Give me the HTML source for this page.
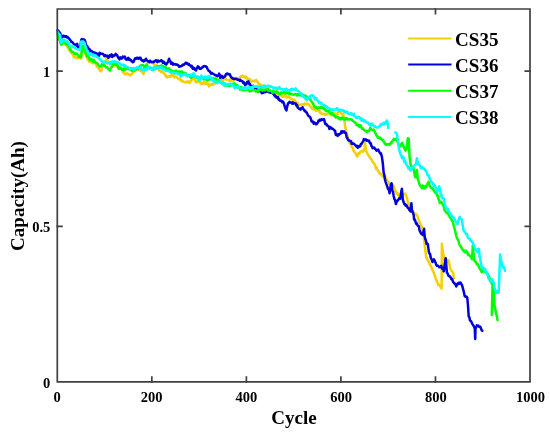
<!DOCTYPE html>
<html><head><meta charset="utf-8"><style>
html,body{margin:0;padding:0;background:#fff;}
body{width:550px;height:439px;overflow:hidden;position:relative;}
svg{position:absolute;left:0;top:0;}
text{font-family:"Liberation Serif","Times New Roman",serif;font-weight:bold;fill:#000;}
</style></head><body>
<svg width="550" height="439" viewBox="0 0 550 439">
<rect x="0" y="0" width="550" height="439" fill="#fff"/>

<g fill="none" stroke-width="2.5" stroke-linejoin="round" stroke-linecap="round">
<polyline stroke="#f5cf00" points="57.7,34.0 58.4,37.0 59.2,39.3 59.9,40.3 60.7,41.5 61.4,44.0 62.1,42.8 62.8,43.3 63.4,42.5 64.1,43.0 64.8,42.4 65.4,44.2 66.1,45.0 66.8,45.5 67.5,47.3 68.2,47.6 68.9,49.5 69.6,51.0 70.3,51.7 70.9,51.4 71.6,53.4 72.3,54.0 73.0,54.9 73.8,57.1 74.5,56.4 75.3,56.5 76.0,58.0 76.8,57.7 77.4,58.0 78.1,58.3 78.7,57.5 79.5,57.7 80.2,58.3 81.0,58.5 81.7,54.0 82.3,48.0 82.9,49.5 83.5,49.9 84.1,50.5 84.8,51.6 85.5,54.4 86.2,56.2 86.9,58.0 87.7,59.5 88.5,60.1 89.2,61.6 90.0,61.7 90.8,62.1 91.6,62.4 92.4,62.5 93.2,63.3 94.0,62.3 94.8,63.3 95.5,63.5 96.2,64.2 96.8,66.7 97.5,66.0 98.2,67.4 98.9,69.0 99.6,69.7 100.4,71.1 101.2,71.3 101.8,69.4 102.4,66.6 103.0,66.0 103.8,64.8 104.5,62.5 105.2,61.5 106.0,59.4 106.8,58.8 107.5,60.0 108.2,60.7 109.0,62.5 109.8,64.1 110.7,64.1 111.5,62.5 112.1,64.4 112.8,63.0 113.4,63.2 114.0,65.0 114.8,65.1 115.5,66.2 116.2,66.3 117.0,66.5 117.7,67.1 118.3,66.5 119.0,67.8 119.6,68.7 120.3,68.1 120.9,68.9 121.6,68.9 122.2,70.2 122.9,72.4 123.5,72.9 124.2,72.5 125.0,74.5 125.6,74.0 126.2,74.1 126.9,73.3 127.6,73.8 128.3,73.9 128.9,74.1 129.6,75.2 130.3,74.6 131.0,75.2 131.7,74.1 132.4,73.5 133.2,72.3 133.9,72.1 134.7,69.0 135.4,69.9 136.2,69.6 136.9,69.8 137.7,69.0 138.4,70.3 139.2,69.9 139.9,70.5 140.6,69.3 141.3,71.4 142.1,71.8 142.8,72.8 143.5,74.1 144.2,71.6 144.8,70.4 145.5,67.5 146.2,65.0 146.9,64.1 147.6,63.5 148.3,61.0 149.0,61.4 149.7,62.4 150.4,61.4 151.2,62.7 151.9,62.0 152.6,63.2 153.3,62.7 154.1,63.4 154.8,65.6 155.6,65.4 156.3,65.0 157.0,66.1 157.7,67.5 158.3,68.2 159.0,70.5 159.7,70.7 160.3,70.9 161.0,72.3 161.7,72.3 162.4,71.8 163.1,72.8 163.8,72.9 164.5,74.1 165.0,74.6 165.6,74.8 166.2,76.8 166.8,77.3 167.7,76.8 168.5,76.0 169.2,76.4 169.9,76.8 170.6,76.8 171.3,74.8 172.0,75.5 172.7,75.9 173.3,74.5 173.9,75.6 174.6,77.5 175.2,76.4 175.9,76.4 176.6,76.8 177.3,77.8 178.0,78.5 178.7,79.1 179.4,79.4 180.1,79.0 180.7,80.5 181.4,80.1 182.1,81.4 182.8,81.0 183.4,81.7 184.1,81.9 184.8,82.3 185.5,82.5 186.2,82.0 186.9,81.4 187.6,82.4 188.2,82.0 188.9,81.6 189.6,82.8 190.3,81.1 190.9,81.2 191.6,80.2 192.3,78.2 192.9,78.8 193.5,78.4 194.1,79.1 194.7,79.9 195.4,81.6 196.0,81.0 196.7,82.5 197.3,81.2 198.0,81.6 198.7,81.9 199.4,81.2 200.1,81.7 200.7,83.2 201.4,83.7 202.1,83.3 202.8,83.5 203.5,83.4 204.2,81.9 204.9,83.2 205.6,84.0 206.2,83.1 206.9,83.7 207.6,83.0 208.2,84.3 208.9,86.4 209.6,84.6 210.4,85.3 211.2,83.9 212.0,84.6 212.6,84.3 213.2,85.1 213.8,83.7 214.4,82.6 215.1,83.1 215.7,81.7 216.4,82.4 217.0,81.0 217.7,81.5 218.4,80.9 219.1,81.9 219.7,80.1 220.4,79.3 221.1,79.6 221.8,80.7 222.4,78.8 223.1,80.5 223.8,78.7 224.5,79.2 225.2,78.4 225.9,79.2 226.6,79.6 227.3,79.9 227.9,80.2 228.6,80.2 229.3,80.5 230.0,81.3 230.7,78.9 231.3,79.8 232.0,80.5 232.7,79.8 233.4,81.1 234.1,78.2 234.8,79.1 235.5,78.5 236.2,77.9 236.8,78.1 237.5,78.7 238.2,78.7 238.8,78.4 239.5,78.8 240.2,77.3 240.8,76.5 241.5,76.3 242.1,75.5 242.7,76.7 243.3,77.0 243.9,76.4 244.6,76.5 245.2,77.7 245.9,76.5 246.6,77.3 247.2,79.0 247.8,78.6 248.4,78.7 249.0,79.0 249.7,79.5 250.3,79.6 250.9,80.7 251.5,81.9 252.1,80.9 252.8,81.1 253.4,80.7 254.1,81.3 254.8,80.9 255.5,80.4 256.1,79.8 256.8,81.6 257.5,81.4 258.2,82.8 258.9,84.6 259.4,85.2 260.0,84.1 260.9,86.4 261.7,86.4 262.4,85.4 263.2,88.1 264.0,89.0 264.6,89.4 265.2,91.0 265.9,90.8 266.5,90.5 267.1,91.2 267.8,91.7 268.5,91.3 269.1,91.8 269.8,92.1 270.5,91.3 271.1,92.7 271.8,92.8 272.5,92.3 273.2,92.6 273.9,93.5 274.6,93.2 275.3,94.2 276.0,93.0 276.6,95.3 277.3,94.1 278.0,94.1 278.6,94.9 279.3,95.3 280.0,94.6 280.7,95.2 281.4,95.2 282.1,96.7 282.8,95.5 283.5,96.7 284.1,96.5 284.8,94.9 285.5,96.4 286.2,95.8 286.9,97.6 287.5,97.4 288.2,97.3 288.9,97.0 289.6,97.4 290.3,98.0 291.0,98.7 291.7,99.3 292.4,99.5 293.0,100.1 293.7,99.5 294.4,99.7 295.0,100.7 295.7,102.0 296.3,101.9 297.0,102.8 297.7,103.2 298.4,105.4 299.1,104.8 299.8,105.1 300.5,104.8 301.1,104.6 301.8,104.8 302.5,104.2 303.2,105.3 303.9,105.1 304.6,103.5 305.3,104.3 306.0,103.8 306.6,104.3 307.3,103.5 308.0,104.0 308.7,104.7 309.4,104.8 310.0,106.2 310.7,106.9 311.4,107.3 312.1,108.6 312.8,107.6 313.5,109.6 314.1,109.8 314.8,108.9 315.5,108.1 316.2,110.7 316.9,110.7 317.6,110.3 318.3,110.5 319.0,110.9 319.6,112.2 320.3,111.7 321.0,113.4 321.6,113.9 322.3,113.7 323.0,114.0 323.7,113.8 324.4,113.7 325.1,114.7 325.9,114.5 326.6,114.8 327.4,113.9 328.2,113.7 329.0,114.0 329.8,113.7 330.5,114.0 331.2,115.4 332.0,113.5 332.8,112.8 333.5,113.7 334.2,113.5 335.0,113.5 335.8,113.6 336.5,114.4 337.3,113.2 337.9,113.9 338.5,112.4 339.1,111.8 339.7,111.9 340.3,111.6 340.9,113.2 341.5,113.2 342.2,114.7 342.8,114.1 343.5,115.5 344.1,116.9 344.6,122.3 345.0,125.0 345.9,130.5 346.6,133.3 347.3,135.0 348.0,137.9 348.7,139.6 349.3,141.5 349.9,143.5 350.5,144.1 351.1,145.4 351.7,146.0 352.3,147.8 352.9,148.0 353.5,150.7 354.1,151.4 354.7,152.2 355.4,153.0 356.0,154.2 356.6,155.9 357.3,156.4 358.0,154.3 358.7,153.2 359.3,153.8 359.9,152.7 360.5,151.4 361.1,151.2 361.7,150.9 362.3,151.4 362.9,151.8 363.6,150.1 364.2,150.5 365.1,143.2 366.0,151.4 366.6,151.7 367.2,153.1 367.8,154.2 368.4,155.2 369.0,156.0 369.6,156.9 370.2,158.1 370.8,158.5 371.4,159.6 372.1,160.4 372.8,162.4 373.5,163.0 374.2,163.3 374.9,164.9 375.5,166.9 376.1,169.0 376.7,167.5 377.3,169.6 377.9,170.3 378.5,171.9 379.1,172.3 379.7,173.7 380.3,173.7 380.9,174.1 381.5,174.5 382.2,175.8 382.8,176.0 383.4,176.5 384.0,177.5 384.6,177.8 385.2,176.3 385.8,178.9 386.4,179.6 387.0,179.6 387.6,181.4 388.2,181.4 388.9,183.4 389.5,184.0 390.2,184.8 390.8,184.2 391.5,184.5 392.2,185.3 393.0,185.2 393.7,185.9 394.3,187.9 394.9,189.5 395.5,191.4 396.1,191.3 396.7,193.9 397.3,193.2 397.9,194.9 398.5,193.7 399.1,196.0 399.7,197.3 400.3,196.8 400.9,198.7 401.7,197.0 402.5,196.0 403.1,194.5 403.7,194.1 404.3,193.6 404.9,194.2 405.5,194.1 406.2,195.7 406.9,197.8 407.8,202.3 408.5,203.0 409.1,206.0 409.7,207.0 410.4,208.6 411.0,209.6 411.6,211.9 412.2,211.4 412.8,212.3 413.5,211.9 414.1,212.8 414.8,214.1 415.5,214.2 416.2,214.0 416.9,215.0 417.6,216.3 418.3,219.0 419.0,220.9 419.8,222.3 420.5,224.1 421.2,225.5 421.9,227.5 422.7,229.7 423.4,232.8 424.2,239.8 425.0,247.5 425.6,252.3 426.3,257.5 426.9,258.2 427.6,259.7 428.2,260.8 428.8,261.3 429.4,263.4 430.1,264.9 430.7,265.5 431.3,267.6 431.9,267.9 432.6,270.5 433.2,271.4 433.8,272.6 434.4,274.8 435.1,275.9 435.7,278.8 436.3,280.0 436.9,281.4 437.6,282.8 438.2,285.1 438.8,285.0 439.4,284.8 440.1,286.3 440.7,287.0 441.6,288.5 441.9,243.8 442.5,249.6 443.2,253.8 443.8,256.5 444.4,260.0 445.0,260.4 445.7,260.0 446.3,261.3 446.9,261.2 447.6,261.9 448.2,260.0 448.8,261.9 449.5,264.8 450.1,267.6 450.7,269.8 451.4,270.5 452.0,271.3 452.6,272.1 453.2,272.6 454.0,278.0"/>
<polyline stroke="#0000dc" points="57.6,30.1 58.2,32.6 58.9,31.4 59.5,32.5 60.1,33.0 60.7,34.9 61.3,36.4 61.8,37.5 62.4,37.2 63.0,35.7 63.5,36.1 64.3,35.9 65.2,36.7 65.8,36.3 66.4,36.3 67.0,37.5 67.8,37.1 68.7,38.4 69.2,38.6 69.8,39.8 70.7,40.6 71.5,42.1 72.3,41.9 73.2,43.2 73.9,44.1 74.6,44.6 75.2,44.4 75.8,44.9 76.6,45.8 77.2,43.9 77.8,46.9 78.5,47.6 79.2,47.5 79.8,47.1 80.3,47.2 81.2,40.1 81.8,39.0 82.3,39.2 83.2,39.4 84.0,39.5 84.9,40.4 85.5,42.7 86.0,44.6 86.7,45.8 87.3,46.2 88.0,48.0 88.7,49.1 89.3,48.7 90.0,50.6 90.8,52.0 91.6,50.9 92.4,52.2 93.2,52.0 94.0,52.4 94.8,52.6 95.6,53.2 96.4,53.2 97.2,53.8 98.0,55.3 98.8,56.2 99.6,52.7 100.4,53.9 101.2,53.8 102.0,53.7 102.8,53.8 103.6,54.6 104.4,56.1 105.2,55.0 106.0,56.2 106.8,56.4 107.5,55.6 108.3,57.8 109.1,57.0 109.9,55.4 110.7,56.2 111.5,54.4 112.3,57.0 113.1,55.4 113.7,56.0 114.4,55.3 115.0,55.2 115.7,53.9 116.3,55.0 117.1,54.9 117.9,57.0 118.7,58.2 119.5,59.4 120.3,57.4 121.1,58.6 121.9,58.6 122.7,56.6 123.5,57.2 124.3,57.0 124.9,56.6 125.6,59.2 126.2,58.7 126.9,59.8 127.6,58.8 128.2,57.8 128.9,59.6 129.6,59.0 130.3,60.2 131.0,60.0 131.7,61.4 132.3,61.5 132.9,62.3 133.5,61.8 134.1,60.6 134.7,59.0 135.3,58.2 136.0,58.6 136.6,57.8 137.3,58.5 137.9,57.7 138.6,59.0 139.2,57.8 139.9,57.8 140.5,57.8 141.1,59.4 141.7,60.5 142.3,60.2 142.9,60.2 143.5,61.4 144.1,60.6 144.7,60.9 145.3,60.0 146.0,58.7 146.7,60.2 147.3,60.7 148.0,61.4 148.7,61.2 149.4,62.1 150.1,60.7 150.8,61.8 151.5,62.1 152.2,61.8 152.8,62.1 153.5,62.3 154.1,61.6 154.7,61.0 155.3,60.9 156.0,60.2 156.7,60.8 157.4,62.1 158.1,60.5 158.8,61.5 159.5,61.3 160.3,61.0 161.0,60.2 161.7,60.5 162.3,61.2 162.9,62.9 163.5,61.8 164.2,62.0 165.0,63.7 165.6,64.1 166.2,64.5 166.8,63.7 167.6,62.3 168.3,61.0 169.1,58.7 169.8,61.2 170.5,61.4 171.1,63.7 171.7,63.6 172.3,62.8 173.0,64.6 173.7,63.9 174.3,64.4 175.0,64.1 175.7,64.5 176.4,64.8 177.1,64.4 177.8,65.0 178.5,65.7 179.2,66.8 179.8,66.1 180.5,66.4 181.2,66.1 181.8,66.0 182.5,65.1 183.2,64.6 183.8,65.0 184.4,64.3 185.0,63.7 185.7,62.8 186.5,62.7 187.2,64.0 188.0,64.2 188.7,63.7 189.3,65.2 189.9,65.2 190.5,65.5 191.1,66.5 191.7,65.8 192.3,67.8 192.9,68.7 193.5,67.5 194.1,68.2 194.7,69.6 195.4,69.0 196.0,70.5 196.6,68.5 197.2,67.7 197.8,66.4 198.4,66.8 199.0,67.3 199.6,68.7 200.3,68.9 200.9,68.6 201.6,68.0 202.3,67.3 203.0,66.9 203.7,66.2 204.4,66.1 205.1,66.4 205.7,66.2 206.3,66.9 206.9,67.3 207.5,69.0 208.1,69.7 208.7,70.9 209.3,70.9 209.9,71.6 210.5,72.8 211.2,73.6 212.0,72.8 212.6,73.5 213.2,73.9 213.8,74.1 214.4,74.6 215.0,75.2 215.6,75.0 216.3,75.3 217.0,76.2 217.7,76.2 218.4,75.5 219.1,73.6 219.8,75.2 220.4,77.9 221.1,75.9 221.8,75.7 222.4,76.6 223.1,77.8 223.8,77.3 224.4,76.6 225.1,76.5 225.7,74.6 226.4,73.9 227.1,73.5 227.9,74.2 228.6,74.0 229.3,74.6 229.9,74.4 230.5,76.3 231.1,76.8 231.7,77.7 232.3,78.1 232.9,78.7 233.6,78.5 234.3,79.0 235.0,78.9 235.7,79.1 236.4,78.7 237.1,79.6 237.7,79.8 238.4,79.6 239.1,80.1 239.8,80.8 240.4,79.9 241.1,80.9 241.8,81.0 242.5,81.2 243.2,82.9 243.9,82.3 244.5,83.5 245.1,85.2 245.7,84.1 246.4,84.5 247.1,81.9 247.8,81.7 248.4,81.4 249.3,84.1 249.9,83.9 250.6,85.6 251.2,86.0 251.9,86.1 252.6,86.3 253.2,85.8 253.9,86.9 254.6,87.7 255.2,88.2 255.9,88.9 256.6,89.1 257.2,90.3 257.8,90.3 258.4,91.9 259.2,89.6 260.0,90.9 260.6,91.1 261.2,91.8 261.8,93.2 262.4,92.2 263.0,92.9 263.6,91.8 264.2,91.5 264.9,92.3 265.5,90.9 266.2,91.4 266.9,91.7 267.5,91.8 268.2,91.4 268.8,92.2 269.4,90.9 270.0,91.8 270.6,92.8 271.2,92.7 271.8,92.8 272.4,92.5 273.1,94.0 273.7,94.1 274.3,95.0 274.9,96.3 275.5,95.9 276.1,97.3 276.7,97.6 277.3,97.8 277.9,97.0 278.5,99.4 279.1,98.7 279.7,100.6 280.3,100.7 280.9,100.5 281.5,101.3 282.2,102.1 282.8,101.4 283.5,102.3 284.1,104.1 284.8,106.8 285.5,108.7 286.4,110.5 287.3,106.0 288.2,103.2 288.8,103.0 289.5,101.9 290.1,102.3 290.8,102.4 291.5,102.6 292.1,103.6 292.8,102.3 293.4,103.6 294.0,103.0 295.0,103.5 295.7,103.5 296.4,105.5 297.0,104.9 297.7,107.6 298.4,107.9 299.1,108.9 299.8,109.0 300.5,109.6 301.1,108.2 301.8,108.2 302.5,107.3 303.2,108.9 303.9,109.6 304.6,111.0 305.2,110.7 305.9,112.3 306.6,112.3 307.3,113.7 308.0,115.3 308.7,116.2 309.4,116.5 310.2,117.2 310.9,118.9 311.6,121.5 312.3,121.4 313.0,121.7 313.7,123.6 314.5,122.5 315.2,123.1 315.9,124.3 316.6,124.3 317.3,122.9 318.0,122.4 318.6,120.5 319.3,120.8 320.0,119.6 320.7,120.5 321.4,119.3 322.0,119.7 322.7,119.6 323.3,119.9 324.0,119.1 324.6,121.4 325.2,124.0 325.8,124.0 326.4,124.1 327.0,125.5 327.6,125.8 328.2,126.0 328.8,126.8 329.4,129.0 330.0,127.8 330.6,127.1 331.2,128.0 331.8,128.7 332.4,128.6 333.1,129.1 333.7,129.6 334.4,130.5 335.0,130.5 335.9,135.0 336.5,134.9 337.1,134.5 337.7,135.9 338.3,134.2 339.0,134.8 339.6,134.1 340.2,133.9 340.8,133.1 341.4,131.4 342.1,132.7 342.8,131.3 343.4,132.1 344.1,131.4 344.7,132.7 345.3,132.6 345.9,133.2 346.8,137.8 347.4,138.1 348.1,140.1 348.7,140.5 349.3,140.4 349.9,140.8 350.5,141.4 351.1,141.2 351.7,143.8 352.3,143.2 352.9,143.7 353.5,143.5 354.1,144.1 354.7,144.5 355.4,145.1 356.0,146.0 356.6,146.6 357.2,145.9 357.8,147.8 358.4,146.1 359.0,146.8 359.6,146.0 360.2,146.2 360.8,144.1 361.4,144.1 362.0,143.2 362.6,141.9 363.2,141.4 363.8,139.1 364.5,139.9 365.1,140.0 365.8,139.2 366.5,140.7 367.1,140.3 367.8,140.5 368.4,141.1 369.0,140.6 369.6,142.3 370.2,143.4 370.8,143.3 371.4,146.0 372.0,146.5 372.7,148.2 373.3,147.8 374.1,147.5 375.0,148.7 375.8,149.6 376.5,150.7 377.3,150.0 378.2,149.6 378.9,151.0 379.6,152.3 380.2,153.6 380.9,153.2 381.9,156.8 382.8,163.2 383.6,172.0 384.3,175.0 385.0,179.6 385.7,182.1 386.4,184.1 387.2,186.2 388.0,189.0 388.8,189.5 389.6,193.2 390.5,187.0 391.1,184.0 391.6,183.2 392.3,190.5 393.0,191.9 393.7,196.0 394.4,199.3 395.0,199.6 395.9,204.1 396.8,201.4 397.5,201.0 398.2,199.6 398.8,199.3 399.4,198.0 400.0,198.7 400.6,196.5 401.3,191.4 401.9,188.7 402.8,199.6 403.7,202.3 404.4,204.2 405.0,204.1 405.7,205.6 406.4,205.1 407.1,206.7 407.8,207.8 408.5,208.3 409.1,209.6 409.8,210.4 410.5,211.4 411.4,203.2 411.9,209.6 412.8,212.3 413.7,215.0 414.1,219.6 414.8,219.5 415.5,221.7 416.1,223.6 416.8,223.2 417.4,225.1 418.1,226.0 418.7,226.0 419.6,230.5 420.2,231.5 420.9,233.2 421.5,234.0 422.2,233.7 422.8,235.0 423.5,231.4 424.1,228.7 424.6,236.0 425.2,238.7 425.9,240.5 426.5,243.7 427.2,243.4 427.8,244.2 428.8,251.3 429.4,253.5 430.1,254.0 430.7,257.5 431.3,258.9 431.9,259.8 432.5,262.0 433.1,260.1 433.8,259.3 434.4,260.0 435.0,261.5 435.7,263.0 436.3,265.0 436.9,265.8 437.6,265.6 438.2,266.0 438.8,266.3 439.4,267.2 440.1,266.8 440.7,266.6 441.3,265.7 441.9,268.4 442.6,268.9 443.2,269.2 443.8,271.3 444.4,266.2 445.1,261.2 445.7,258.2 446.3,265.4 446.9,272.6 447.5,273.2 448.1,274.8 448.8,276.1 449.4,276.3 450.0,276.5 450.7,277.6 451.4,279.1 452.0,278.8 452.6,280.3 453.2,282.1 453.8,282.6 454.4,283.6 455.1,283.8 455.7,285.1 456.3,286.4 456.9,283.9 457.6,284.5 458.2,283.2 458.8,282.7 459.5,283.7 460.1,282.6 460.7,282.7 461.4,284.2 462.0,285.1 462.8,288.0 463.5,290.5 464.1,293.1 464.6,295.9 465.3,296.7 466.0,296.4 466.6,296.6 467.3,298.0 468.0,305.5 468.7,316.4 469.4,317.2 470.0,320.5 470.7,320.8 471.4,321.8 472.1,323.6 472.8,324.6 473.5,325.7 474.1,326.8 474.8,328.7 475.2,339.0 475.5,328.7 476.2,327.1 476.9,325.3 477.6,326.0 478.3,325.6 478.9,326.7 479.6,326.7 480.3,326.8 481.0,328.4 481.6,330.2 482.3,330.8"/>
<polyline stroke="#00ff00" points="57.6,33.5 58.3,35.7 58.9,38.7 59.6,39.8 60.2,41.3 60.7,43.8 61.2,44.7 61.8,44.4 62.6,43.0 63.5,41.8 64.3,42.0 65.2,42.6 65.8,44.4 66.4,43.8 67.0,43.8 67.8,45.0 68.7,46.1 69.2,47.5 69.8,47.8 70.4,49.9 71.0,50.2 71.7,51.6 72.3,52.3 73.0,52.1 73.7,52.8 74.3,53.2 75.0,54.1 75.7,53.5 76.5,53.7 77.2,54.0 78.0,55.5 78.7,56.4 79.5,56.5 80.2,56.7 81.0,57.3 81.7,51.6 82.3,46.0 82.9,45.9 83.5,47.5 84.1,48.7 84.8,50.7 85.5,52.9 86.2,53.7 86.9,56.0 87.7,56.6 88.5,56.5 89.2,58.5 90.0,60.2 90.8,58.7 91.6,59.3 92.4,61.0 93.2,61.8 94.0,59.9 94.8,61.7 95.6,62.5 96.4,63.1 97.2,63.3 98.0,64.3 98.8,65.7 99.6,66.4 100.4,66.5 101.2,65.8 102.0,64.1 102.8,65.4 103.6,64.9 104.4,65.7 105.2,66.1 106.0,67.3 106.8,67.3 107.5,67.5 108.3,68.9 109.1,69.5 109.9,70.5 110.7,68.3 111.5,67.3 112.3,66.4 113.1,64.1 113.9,63.1 114.7,63.6 115.5,64.9 116.3,64.5 117.1,64.2 117.9,66.5 118.7,68.8 119.5,68.9 120.3,67.6 121.1,68.9 121.9,69.7 122.7,68.9 123.5,70.3 124.3,68.9 125.0,67.6 125.7,69.4 126.4,68.3 127.1,68.7 127.8,68.6 128.5,68.4 129.2,69.4 129.8,68.4 130.5,69.0 131.2,69.6 131.9,70.9 132.6,69.6 133.3,68.1 134.0,70.4 134.8,70.5 135.5,69.4 136.2,69.6 136.9,69.1 137.7,67.8 138.4,68.6 139.2,67.1 139.9,66.0 140.6,65.7 141.2,65.3 141.9,65.1 142.6,65.0 143.3,65.5 143.9,65.7 144.6,68.5 145.3,67.8 146.0,66.5 146.8,64.5 147.5,66.6 148.3,66.8 149.0,66.9 149.7,67.7 150.4,67.9 151.2,68.4 151.9,69.3 152.6,69.6 153.3,69.8 154.1,68.3 154.8,67.7 155.6,68.8 156.3,66.9 157.1,67.4 157.8,66.0 158.6,68.1 159.3,67.2 160.1,65.9 160.8,66.0 161.5,65.3 162.2,66.5 162.8,66.1 163.5,66.9 164.2,66.6 165.0,68.2 165.7,67.2 166.3,67.8 167.0,69.3 167.7,68.7 168.4,68.8 169.1,68.2 169.8,70.0 170.5,70.0 171.2,70.4 171.9,71.2 172.7,71.9 173.4,71.2 174.1,71.4 174.8,71.3 175.4,71.3 176.1,70.5 176.7,71.7 177.4,72.5 178.0,71.7 178.7,71.4 179.4,71.5 180.2,71.7 180.9,71.5 181.7,71.6 182.4,72.1 183.2,72.8 183.9,72.6 184.7,73.4 185.4,73.1 186.2,75.0 186.9,75.5 187.6,75.9 188.3,75.4 189.1,74.7 189.8,76.6 190.5,77.3 191.2,77.9 191.9,76.5 192.7,76.3 193.4,76.1 194.1,76.4 194.8,77.0 195.6,76.2 196.3,77.6 197.1,77.0 197.8,77.3 198.5,78.2 199.2,77.8 200.0,77.7 200.7,76.9 201.4,78.2 202.1,77.6 202.9,78.2 203.6,79.2 204.4,79.2 205.1,79.1 205.8,78.9 206.4,79.8 207.1,80.6 207.8,80.1 208.5,79.9 209.2,79.3 209.8,79.0 210.5,79.1 211.2,79.6 212.0,79.0 212.7,79.5 213.3,78.4 214.0,79.2 214.6,78.7 215.3,78.4 215.9,79.9 216.6,79.1 217.3,80.5 218.1,79.9 218.8,80.9 219.6,81.9 220.3,81.8 221.1,82.8 221.8,83.0 222.4,84.0 223.1,82.7 223.7,84.3 224.4,85.3 225.0,85.6 225.7,85.5 226.4,84.6 227.2,85.6 227.9,84.9 228.7,85.8 229.4,86.0 230.2,85.5 230.9,85.4 231.7,84.3 232.4,83.9 233.2,84.6 233.9,83.7 234.6,83.4 235.2,84.4 235.9,84.8 236.6,84.6 237.3,85.2 237.9,87.7 238.6,87.0 239.3,87.3 240.0,89.5 240.8,87.2 241.5,87.0 242.3,89.8 243.0,90.0 243.7,90.5 244.4,89.9 245.2,89.9 245.9,88.6 246.6,90.0 247.3,89.4 248.1,89.5 248.8,90.2 249.6,91.4 250.3,91.0 251.0,91.0 251.7,90.9 252.5,89.9 253.2,89.8 253.9,90.0 254.6,90.3 255.2,90.3 255.9,91.7 256.6,91.0 257.3,90.3 258.0,91.8 258.7,89.8 259.4,90.0 260.0,88.7 260.7,89.7 261.4,88.8 262.2,90.6 262.9,90.1 263.6,90.0 264.3,90.3 265.0,90.4 265.7,89.4 266.4,89.6 267.1,89.1 267.8,88.6 268.4,91.2 269.1,90.9 269.8,90.6 270.5,90.6 271.1,91.1 271.8,91.4 272.5,93.0 273.3,90.8 274.0,91.9 274.8,91.8 275.5,92.3 276.2,92.8 276.9,91.3 277.5,92.1 278.2,92.8 278.9,93.3 279.7,94.1 280.4,94.3 281.2,92.4 281.9,92.8 282.6,92.9 283.2,92.9 283.9,92.1 284.6,93.2 285.3,91.8 286.0,93.3 286.6,93.1 287.3,92.8 288.0,93.0 288.7,94.2 289.4,92.9 290.1,93.7 290.8,94.2 291.5,94.2 292.1,94.3 292.8,94.6 293.5,94.7 294.3,94.3 295.0,93.9 295.7,94.2 296.4,94.3 297.0,95.6 297.7,94.2 298.4,94.4 299.1,95.3 299.8,95.3 300.5,94.9 301.2,94.9 302.0,95.8 302.8,94.8 303.5,95.5 304.3,96.5 305.1,95.5 305.8,95.8 306.6,96.5 307.2,97.3 307.9,98.5 308.5,98.5 309.2,99.0 310.0,97.8 310.7,100.4 311.4,101.4 312.1,102.5 312.8,103.0 313.5,104.8 314.2,106.0 314.8,106.9 315.5,107.6 316.2,107.1 316.8,108.5 317.5,108.0 318.1,108.3 318.8,107.4 319.4,108.3 320.0,108.2 320.7,107.1 321.4,107.2 322.0,108.0 322.7,107.8 323.4,107.3 324.1,108.9 324.8,108.8 325.5,110.5 326.2,111.1 326.9,110.5 327.5,111.2 328.2,111.4 328.9,110.7 329.5,111.8 330.2,113.4 330.9,113.2 331.6,114.1 332.3,112.8 333.0,115.0 333.7,115.0 334.4,116.2 335.0,115.8 335.7,117.5 336.4,116.9 337.1,116.5 337.8,117.2 338.4,118.4 339.1,117.8 339.8,119.2 340.5,119.4 341.2,117.9 341.9,118.7 342.6,117.5 343.2,119.2 343.9,118.3 344.6,119.6 345.0,119.1 345.7,118.7 346.4,117.9 347.0,119.4 347.7,118.7 348.4,119.5 349.1,119.5 349.8,119.1 350.5,119.1 351.2,119.6 351.9,119.8 352.5,120.7 353.2,120.9 353.9,121.7 354.5,122.4 355.2,122.4 355.9,123.2 356.6,125.0 357.3,124.6 358.0,125.7 358.7,125.0 359.4,126.8 360.0,125.7 360.7,125.4 361.4,127.3 362.1,128.6 362.8,128.5 363.4,129.4 364.1,130.0 364.8,130.4 365.5,131.2 366.2,130.8 366.9,132.3 367.5,131.6 368.1,131.0 368.7,130.9 369.5,130.2 370.2,127.9 371.0,129.1 371.7,129.7 372.5,130.0 373.2,130.0 373.8,129.5 374.4,130.7 375.0,132.3 375.6,133.4 376.2,135.1 376.8,135.9 377.4,136.5 378.0,137.9 378.6,137.3 379.2,138.0 379.9,137.5 380.5,138.7 381.1,138.4 381.7,139.7 382.3,139.6 382.9,140.0 383.5,141.6 384.1,141.8 384.7,143.4 385.3,144.0 385.9,144.1 386.5,145.0 387.2,144.1 387.8,144.1 388.4,144.4 389.0,144.3 389.6,145.0 390.2,143.9 390.8,142.5 391.4,143.2 392.0,141.6 392.6,140.5 393.2,140.5 393.8,138.9 394.4,139.8 395.0,139.6 395.7,139.5 396.4,138.7 397.1,140.3 397.8,142.3 398.4,144.5 399.0,145.6 399.6,145.9 400.2,146.3 400.8,144.4 401.4,144.1 402.1,142.9 402.8,144.1 403.5,146.1 404.1,147.8 404.8,149.4 405.5,150.5 406.4,148.7 407.1,144.0 407.8,138.2 408.7,138.7 409.6,157.3 410.5,163.7 411.4,166.4 412.1,167.3 412.8,167.3 413.7,169.1 414.6,174.6 415.2,177.0 415.9,177.3 416.9,170.0 417.8,179.1 418.5,180.9 419.1,182.8 419.8,185.1 420.5,186.4 421.2,186.8 421.9,188.3 422.5,185.5 423.2,186.4 423.8,186.3 424.4,188.6 425.0,188.2 425.6,186.2 426.2,187.0 426.8,185.5 427.4,183.9 428.0,182.7 428.6,181.8 429.6,185.5 430.5,187.3 431.1,187.6 431.7,188.1 432.3,188.2 432.9,188.4 433.5,190.0 434.1,190.9 434.7,191.9 435.3,192.9 435.9,192.8 436.5,193.3 437.2,195.7 437.8,195.5 438.5,199.4 439.1,200.0 439.8,203.1 440.5,201.9 441.1,201.8 441.8,202.8 442.5,204.2 443.2,205.5 443.9,206.4 444.6,210.1 445.2,211.0 445.9,211.9 446.5,212.9 447.2,212.3 447.8,213.7 448.4,213.3 449.0,215.4 449.6,216.4 450.2,217.8 450.8,217.8 451.4,219.2 452.0,220.8 452.7,221.0 453.3,223.9 454.0,226.6 454.6,228.5 455.4,231.8 456.2,236.0 457.0,238.0 457.7,239.4 458.4,240.3 459.1,244.1 459.8,245.1 460.5,245.7 461.1,247.3 461.8,248.2 462.5,249.4 463.2,250.1 463.9,251.4 464.6,250.9 465.3,252.5 466.0,250.6 466.6,251.7 467.3,252.3 468.0,254.6 468.6,254.0 469.3,255.6 470.0,255.7 470.7,256.9 471.4,257.7 472.1,259.1 472.8,245.5 473.5,253.4 474.1,259.1 474.8,261.3 475.5,261.5 476.2,262.6 476.9,264.3 477.5,263.8 478.2,265.0 478.9,266.7 479.6,268.6 480.3,269.5 481.0,270.0 481.7,272.1 482.4,271.4 483.0,270.6 483.7,269.4 484.4,271.3 485.0,272.0 485.7,271.9 486.4,272.8 487.1,273.5 487.8,274.7 488.5,275.7 489.2,276.9 489.9,279.6 490.5,281.5 491.2,281.7 491.9,284.0 492.6,283.7 491.8,315.0 492.6,302.0 493.5,288.0 494.5,305.0 495.2,308.7 496.0,313.2 496.8,316.1 497.5,320.0"/>
<polyline stroke="#00ffff" points="57.6,31.8 58.4,33.0 59.2,34.1 60.1,35.2 60.7,40.9 61.3,42.6 61.8,42.1 62.4,39.8 63.0,40.0 63.5,39.5 64.3,39.7 65.2,40.4 65.8,40.8 66.4,41.5 67.0,40.9 67.7,42.1 68.4,42.4 69.2,44.9 70.1,46.8 70.9,46.1 71.8,45.9 72.6,46.6 73.2,47.0 73.8,46.9 74.4,47.8 75.1,47.5 75.9,48.3 76.6,48.9 77.4,49.2 78.1,49.6 78.9,49.5 79.6,49.9 80.3,49.5 81.2,41.5 82.1,43.3 82.9,41.5 83.5,42.8 84.0,42.1 84.7,43.3 85.5,46.5 86.2,48.3 86.9,51.0 87.7,51.4 88.5,53.7 89.2,53.7 90.0,54.6 90.8,53.4 91.6,55.1 92.4,55.4 93.2,55.4 94.0,55.0 94.8,56.2 95.6,55.6 96.4,56.1 97.2,57.0 98.0,57.4 98.8,58.0 99.6,58.7 100.4,60.0 101.2,60.7 102.0,61.5 102.8,63.0 103.6,61.5 104.4,62.0 105.2,61.5 105.9,62.0 106.7,62.5 107.5,63.4 108.3,62.5 109.1,63.0 109.9,63.8 110.7,61.9 111.5,62.5 112.3,61.4 113.1,61.9 113.9,62.0 114.7,61.3 115.5,61.4 116.3,62.0 117.2,62.4 118.0,62.3 118.7,63.3 119.3,63.4 120.0,63.5 120.7,64.1 121.4,65.3 122.1,65.0 122.8,64.7 123.5,65.0 124.2,66.3 124.9,65.3 125.7,66.2 126.4,67.0 127.1,66.9 127.8,67.4 128.4,67.4 129.1,68.4 129.8,68.7 130.5,68.4 131.2,68.4 131.9,68.1 132.6,69.1 133.3,69.7 133.9,68.4 134.6,69.2 135.3,68.2 136.0,68.3 136.7,67.4 137.3,67.7 138.0,66.9 138.6,67.5 139.3,67.7 139.9,67.8 140.5,67.4 141.1,68.9 141.7,69.6 142.4,70.0 143.1,69.6 143.7,69.8 144.4,68.7 145.1,69.9 145.8,69.1 146.6,70.0 147.3,67.5 148.0,68.2 148.7,68.1 149.4,66.7 150.1,69.1 150.8,69.1 151.5,69.1 152.2,70.2 153.0,68.8 153.7,67.3 154.4,68.7 155.1,69.2 155.8,67.6 156.5,67.2 157.2,68.2 157.9,67.7 158.6,68.4 159.2,67.6 159.9,67.8 160.6,68.1 161.3,66.8 162.1,69.4 162.8,68.7 163.5,68.7 164.2,69.5 165.0,70.0 165.7,70.7 166.3,70.7 167.0,70.9 167.7,70.9 168.4,70.5 169.1,71.2 169.8,71.9 170.5,71.9 171.2,72.9 171.9,72.3 172.7,72.5 173.4,72.9 174.1,72.8 174.8,73.5 175.6,73.4 176.3,73.2 177.1,73.1 177.8,73.7 178.5,74.5 179.2,74.2 180.0,74.0 180.7,76.6 181.4,74.1 182.1,75.4 182.8,75.2 183.6,74.7 184.3,73.8 185.0,74.6 185.7,75.5 186.5,75.0 187.2,75.2 188.0,76.1 188.7,75.5 189.4,76.2 190.1,75.4 190.7,74.9 191.4,74.6 192.1,76.0 192.8,74.9 193.4,73.3 194.1,73.7 194.7,75.3 195.4,76.3 196.0,77.3 196.6,77.1 197.2,77.2 197.8,76.4 198.4,77.9 199.0,80.4 199.6,80.1 200.2,79.0 200.8,77.3 201.4,75.5 202.0,77.3 202.7,77.1 203.3,78.2 203.9,78.3 204.5,77.1 205.1,76.4 205.7,77.9 206.3,77.1 206.9,78.2 207.6,78.0 208.2,76.1 208.9,76.3 209.6,76.4 210.4,76.9 211.2,78.0 212.0,78.2 212.6,80.5 213.2,81.4 213.8,80.5 214.5,80.4 215.2,80.9 215.9,83.0 216.6,82.8 217.3,83.1 217.9,81.4 218.6,82.3 219.3,81.9 220.0,81.5 220.7,82.0 221.3,82.1 222.0,83.7 222.7,83.2 223.4,85.1 224.1,83.9 224.8,83.2 225.5,83.7 226.2,86.0 226.8,84.6 227.5,85.0 228.2,84.6 228.8,84.1 229.5,84.3 230.2,83.7 230.9,83.7 231.6,85.2 232.2,84.4 232.9,84.6 233.5,86.2 234.2,87.3 234.8,88.2 235.5,87.4 236.2,86.9 236.8,87.3 237.5,87.3 238.2,85.8 238.8,87.4 239.5,88.0 240.2,88.2 240.9,88.2 241.6,88.0 242.3,88.2 243.0,87.8 243.7,87.9 244.3,88.9 245.0,87.6 245.7,89.1 246.4,89.1 247.1,87.6 247.7,88.0 248.4,87.3 249.0,87.3 249.7,87.5 250.3,88.2 251.0,87.3 251.7,88.6 252.3,86.9 253.0,87.3 253.7,86.0 254.3,86.8 255.0,86.8 255.7,86.4 256.4,86.7 257.0,86.1 257.7,86.4 258.4,87.3 259.2,87.6 260.0,86.8 260.7,86.1 261.4,87.1 262.0,87.4 262.7,86.8 263.4,86.8 264.1,85.5 264.8,87.4 265.5,85.9 266.2,86.3 266.9,86.3 267.7,86.0 268.4,85.5 269.1,86.4 269.8,86.2 270.6,86.8 271.3,86.3 272.1,87.1 272.8,87.3 273.5,88.3 274.2,88.0 275.0,87.6 275.7,88.5 276.4,87.8 277.1,88.8 277.8,89.0 278.6,87.9 279.3,87.1 280.0,88.7 280.7,89.2 281.5,89.2 282.2,89.0 283.0,89.7 283.7,89.6 284.4,89.3 285.1,89.1 285.9,90.8 286.6,88.7 287.3,89.6 288.0,89.9 288.8,90.2 289.5,90.8 290.3,89.7 291.0,89.1 291.8,89.7 292.5,88.8 293.2,89.4 294.0,89.6 295.0,89.8 295.7,88.4 296.3,89.5 297.0,90.5 297.7,90.8 298.4,91.3 299.1,91.8 299.8,92.1 300.5,94.0 301.2,93.9 301.9,93.8 302.5,95.6 303.2,96.6 303.9,97.0 304.6,98.0 305.3,98.7 306.0,98.7 306.6,100.2 307.3,98.7 308.0,97.5 308.7,98.2 309.4,96.6 310.1,97.4 310.7,95.9 311.4,95.3 312.1,95.3 312.8,95.2 313.5,96.6 314.2,96.5 314.8,99.4 315.5,98.7 316.2,98.0 316.9,100.1 317.6,100.7 318.3,100.7 318.9,103.1 319.6,102.3 320.4,103.4 321.1,102.5 321.9,103.4 322.7,104.5 323.4,105.0 324.1,105.5 324.8,105.1 325.5,106.2 326.2,106.3 326.9,106.7 327.5,107.8 328.2,108.0 328.9,108.7 329.5,109.0 330.2,108.8 330.9,109.6 331.6,110.2 332.3,109.5 333.0,109.2 333.7,110.0 334.4,109.4 335.0,109.5 335.7,109.4 336.4,109.6 337.1,108.1 337.8,110.3 338.4,110.2 339.1,109.6 339.8,110.8 340.5,109.7 341.2,110.4 341.9,110.0 342.5,110.4 343.1,110.4 343.7,110.5 344.4,112.3 345.0,111.2 345.7,112.2 346.4,112.3 347.1,111.5 347.8,113.4 348.4,113.6 349.1,114.1 349.8,113.5 350.5,114.0 351.2,113.1 351.9,115.0 352.6,114.1 353.2,115.4 353.9,113.7 354.6,115.9 355.3,116.8 356.0,117.7 356.6,116.9 357.3,117.8 358.0,116.8 358.7,117.0 359.4,117.3 360.1,118.7 360.8,118.1 361.5,120.6 362.1,118.8 362.8,119.6 363.5,120.5 364.1,121.5 364.8,120.4 365.5,121.4 366.2,121.6 366.9,122.7 367.6,122.4 368.3,123.2 369.1,124.5 370.0,124.1 370.6,125.7 371.3,124.0 371.9,123.5 372.5,123.9 373.2,125.5 373.9,126.3 374.6,126.7 375.3,126.4 376.0,127.3 376.7,127.2 377.3,127.5 378.0,127.5 378.8,127.1 379.5,126.0 380.1,126.1 380.7,124.3 381.4,124.3 382.1,124.6 382.8,123.5 383.5,124.5 384.1,122.6 384.8,123.6 385.5,123.7 386.2,121.6 386.9,120.5 387.6,122.3 388.3,128.0"/>
<polyline stroke="#00ffff" points="395.3,132.5 396.3,132.8 396.8,133.9 397.5,138.0 398.2,141.4 399.1,150.0 399.8,151.4 400.5,154.6 401.1,154.8 401.7,157.3 402.3,158.2 403.0,156.5 403.6,157.5 404.1,161.8 404.7,162.0 405.3,161.3 405.9,163.7 406.5,165.1 407.2,165.7 407.8,166.4 408.4,168.4 409.0,168.0 409.6,169.1 410.2,170.1 410.9,170.5 411.6,169.2 412.3,168.2 412.9,167.0 413.5,167.0 414.1,166.4 414.7,164.9 415.3,164.7 415.9,164.6 416.9,158.2 417.5,161.4 418.2,163.7 418.9,164.7 419.6,165.5 420.2,165.7 420.8,168.0 421.4,166.8 422.0,167.6 422.6,167.4 423.2,168.2 423.8,168.8 424.5,169.0 425.1,170.0 425.7,170.6 426.3,171.5 426.9,172.8 427.5,175.2 428.1,174.9 428.7,175.5 429.3,177.2 429.9,179.0 430.5,180.0 431.1,182.5 431.7,182.0 432.3,182.7 432.9,182.9 433.5,185.7 434.1,184.6 434.7,185.1 435.3,186.6 435.9,188.2 436.5,189.5 437.2,191.8 437.8,190.9 438.5,188.3 439.1,186.4 440.0,189.1 440.9,195.5 441.6,195.0 442.3,198.2 443.0,198.3 443.7,198.2 444.6,203.7 445.3,205.6 446.0,208.2 446.6,208.1 447.2,209.1 447.8,209.1 448.5,210.7 449.1,211.9 449.7,213.1 450.4,213.4 451.0,214.6 451.6,216.1 452.2,217.1 452.8,216.4 453.5,217.6 454.1,218.3 454.8,219.4 455.5,221.0 456.2,222.5 456.8,223.5 457.5,224.1 458.2,221.0 459.0,218.8 459.7,216.8 460.4,218.5 461.2,218.8 461.9,219.7 462.6,224.6 463.4,229.9 464.1,231.1 464.9,232.1 465.6,233.2 466.3,234.3 467.0,234.0 467.8,237.7 468.5,238.2 469.2,239.0 469.9,239.0 470.6,240.8 471.4,241.2 472.1,241.4 472.8,242.9 473.4,244.9 474.1,245.5 474.8,248.7 475.5,249.0 476.2,250.9 476.9,250.9 477.6,252.1 478.2,249.2 478.9,248.9 479.6,256.4 480.3,259.3 481.0,263.2 481.6,266.4 482.3,268.7 483.0,267.5 483.7,268.3 484.4,269.6 485.1,268.7 485.8,271.4 486.5,272.7 487.1,272.5 487.8,275.5 488.5,278.4 489.1,279.0 489.8,280.3 490.5,281.0 491.2,281.3 491.9,279.3 492.6,280.3 493.3,281.5 493.9,284.1 494.6,287.8 495.3,290.6 496.0,290.6 496.7,292.6 497.4,292.3 498.0,292.4 498.7,292.6 499.4,273.9 500.1,254.4 500.8,258.6 501.5,261.9 502.1,264.9 502.8,267.3 503.5,267.6 504.2,267.1 504.9,270.8"/>
</g>
<g stroke="#404040" stroke-width="1.7" fill="none" stroke-linecap="square">
<path d="M57.3,9.0H530.0V381.8H57.3Z"/>
<path d="M151.84,381.8v-4.7M151.84,9.0v4.7M246.38,381.8v-4.7M246.38,9.0v4.7M340.92,381.8v-4.7M340.92,9.0v4.7M435.46,381.8v-4.7M435.46,9.0v4.7M57.3,226.47h4.7M530.0,226.47h-4.7M57.3,71.13h4.7M530.0,71.13h-4.7"/>
</g>
<text x="57.00" y="402.4" font-size="14.5" text-anchor="middle">0</text>
<text x="151.72" y="402.4" font-size="14.5" text-anchor="middle">200</text>
<text x="246.44" y="402.4" font-size="14.5" text-anchor="middle">400</text>
<text x="341.16" y="402.4" font-size="14.5" text-anchor="middle">600</text>
<text x="435.88" y="402.4" font-size="14.5" text-anchor="middle">800</text>
<text x="530.60" y="402.4" font-size="14.5" text-anchor="middle">1000</text>
<text x="50.3" y="387.80" font-size="14.5" text-anchor="end">0</text>
<text x="50.3" y="232.47" font-size="14.5" text-anchor="end">0.5</text>
<text x="50.3" y="77.13" font-size="14.5" text-anchor="end">1</text>
<text x="294" y="424.3" font-size="19" text-anchor="middle">Cycle</text>
<text transform="translate(24.2,196) rotate(-90)" x="0" y="0" font-size="19" text-anchor="middle">Capacity(Ah)</text>
<line x1="408.2" y1="38.5" x2="451.5" y2="38.5" stroke="#f5cf00" stroke-width="2.0"/>
<text x="455.1" y="45.7" font-size="19">CS35</text>
<line x1="408.2" y1="64.6" x2="451.5" y2="64.6" stroke="#0000dc" stroke-width="2.0"/>
<text x="455.1" y="71.8" font-size="19">CS36</text>
<line x1="408.2" y1="90.7" x2="451.5" y2="90.7" stroke="#00ff00" stroke-width="2.0"/>
<text x="455.1" y="97.9" font-size="19">CS37</text>
<line x1="408.2" y1="116.9" x2="451.5" y2="116.9" stroke="#00ffff" stroke-width="2.0"/>
<text x="455.1" y="124.1" font-size="19">CS38</text>
</svg>
</body></html>
